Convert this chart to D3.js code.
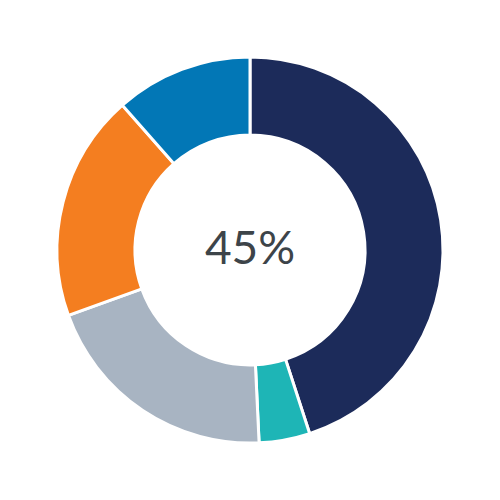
<!DOCTYPE html>
<html><head><meta charset="utf-8">
<script src="https://cdn.jsdelivr.net/npm/d3@7"></script>
<style>html,body{margin:0;padding:0;background:#fff;}</style>
</head><body>
<svg id="chart" width="500" height="500"></svg>
<script>
const categories = ["A", "B", "C", "D", "E"];
const values = [45, 4.25, 20.25, 19, 11.5];
const colors = ["#1c2b5a", "#1eb5b6", "#a8b4c2", "#f47e20", "#0277b6"];
const centerLabel = "45%";

const svg = d3.select("#chart");
const g = svg.append("g").attr("transform", "translate(250,250)");
const pie = d3.pie().sort(null).value(d => d.v);
const arc = d3.arc().innerRadius(115).outerRadius(193);
const data = categories.map((c, i) => ({c, v: values[i], col: colors[i]}));
g.selectAll("path").data(pie(data)).join("path")
  .attr("d", arc)
  .attr("fill", d => d.data.col)
  .attr("stroke", "#fff")
  .attr("stroke-width", 3)
  .attr("stroke-linejoin", "miter");
g.append("text")
  .attr("x", 0).attr("y", 14)
  .attr("text-anchor", "middle")
  .attr("font-family", "Lato, sans-serif")
  .attr("font-weight", 400)
  .attr("font-size", 46)
  .attr("fill", "#3d4449")
  .text(centerLabel);
</script>
</body></html>
